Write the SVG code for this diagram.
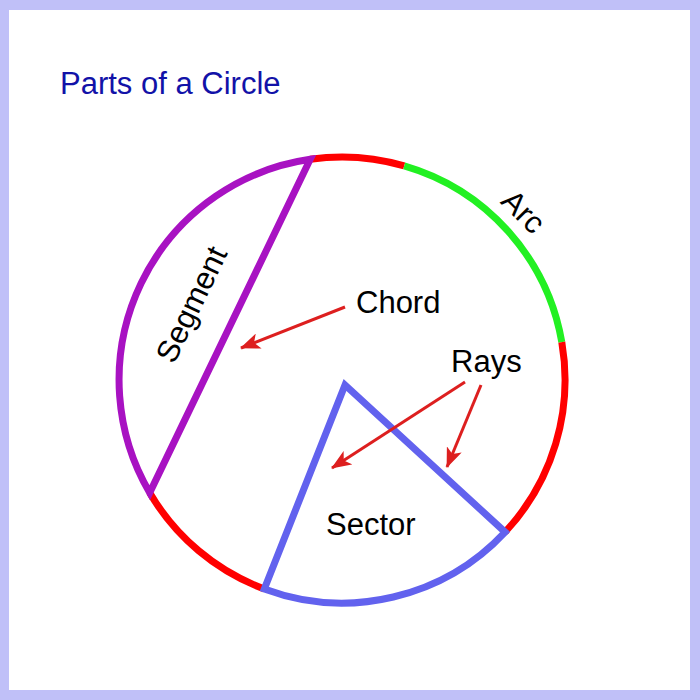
<svg xmlns="http://www.w3.org/2000/svg" width="700" height="700" viewBox="0 0 700 700">
<style>
.arc{fill:none;stroke-width:7;stroke-linecap:butt}
.red{stroke:#ff0000}
.green{stroke:#22f022}
.purple{stroke:#a812c2}
.blue{stroke:#6262ee}
.lbl{font-family:"Liberation Sans",Arial,sans-serif;font-size:31px;fill:#000}
.title{font-family:"Liberation Sans",Arial,sans-serif;font-size:31px;fill:#1212a8}
.arrow{stroke:#dd1f1f;stroke-width:3;fill:none;marker-end:url(#ah)}
</style>
<defs>
<marker id="ah" viewBox="0 0 20 16" refX="19" refY="8" markerWidth="20" markerHeight="16" markerUnits="userSpaceOnUse" orient="auto">
<path d="M0,0 L20,8 L0,16 L5,8 z" fill="#dd1f1f"/>
</marker>
</defs>
<rect x="0" y="0" width="700" height="700" fill="#c0c0f8"/>
<rect x="9" y="10" width="681" height="680" fill="#ffffff"/>
<text class="title" x="60" y="94">Parts of a Circle</text>
<g id="circle">
<path class="arc red" d="M310.2,159.3 A223,223 0 0 1 404.2,165.9"/>
<path class="arc green" d="M404.2,165.9 A223,223 0 0 1 561.8,342.2"/>
<path class="arc red" d="M561.8,342.2 A223,223 0 0 1 505.1,532.1"/>
<path class="arc red" d="M264.3,589.0 A223,223 0 0 1 149.7,492.8"/>
</g>
<g id="segment">
<path class="arc purple" stroke-linejoin="miter" d="M310.2,159.3 L149.7,492.8 A223,223 0 0 1 310.2,159.3 z"/>
<text class="lbl" text-anchor="middle" transform="translate(201,309) rotate(-64.3)">Segment</text>
</g>
<g id="sector">
<path class="arc blue" stroke-linejoin="miter" d="M264.3,589.0 L345,385 L505.1,532.1 A223,223 0 0 1 264.3,589.0 z"/>
<text class="lbl" x="326" y="535">Sector</text>
</g>
<g id="arc-label">
<text class="lbl" text-anchor="middle" transform="translate(516,219) rotate(45)">Arc</text>
</g>
<g id="chord-label">
<text class="lbl" x="356" y="313">Chord</text>
</g>
<g id="rays-label">
<text class="lbl" x="451" y="372">Rays</text>
</g>
<g id="connectors">
<line class="arrow" x1="345" y1="307" x2="241" y2="348"/>
<line class="arrow" x1="465" y1="382" x2="332" y2="468"/>
<line class="arrow" x1="481" y1="385" x2="447" y2="467"/>
</g>
</svg>
